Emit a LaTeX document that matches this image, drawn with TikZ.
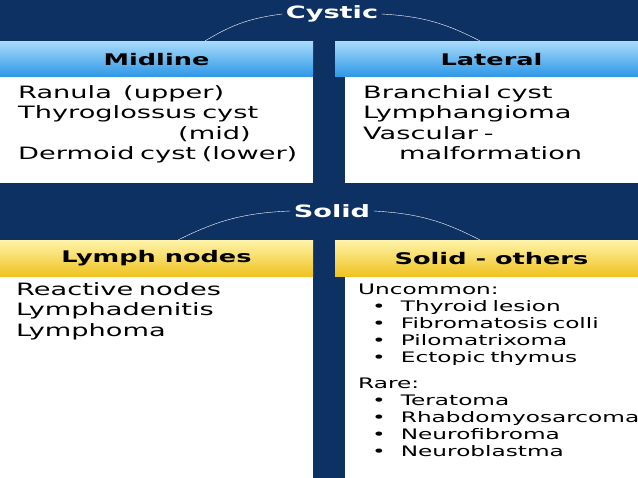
\documentclass[tikz,border=0pt]{standalone}
\usepackage{fontspec}
\setmainfont{DejaVu Sans}[FakeStretch=1.6]
\usetikzlibrary{positioning}
\definecolor{navy}{HTML}{0D3163}
\definecolor{skyhi}{HTML}{A6DAFA}
\definecolor{skylo}{HTML}{2C96E6}
\definecolor{goldhi}{HTML}{FFF3A8}
\definecolor{goldlo}{HTML}{EEC21E}
\tikzstyle{title} = [text=white, font=\bfseries\fontsize{17}{20}\selectfont]
\tikzstyle{bluehead} = [minimum width=313pt, minimum height=35pt, top color=skyhi, bottom color=skylo, font=\bfseries\fontsize{16}{18}\selectfont]
\tikzstyle{goldhead} = [minimum width=313pt, minimum height=36pt, top color=goldhi, bottom color=goldlo, font=\bfseries\fontsize{16}{18}\selectfont]
\tikzstyle{body} = [text width=290pt, align=left, anchor=north west, inner sep=0pt, font=\fontsize{17}{20.5}\selectfont]
\tikzstyle{link} = [white, thin]
\begin{document}
\begin{tikzpicture}[x=1pt, y=-1pt]
        \fill[navy] (0,0) rectangle (638,478);
        \useasboundingbox (0,0) rectangle (638,478);

        % cystic
        \node (cystic) [title] at (332,14) {Cystic};
        \node (midhead) [bluehead] at (156.5,59.5) {Midline};
        \node (lathead) [bluehead] at (491.5,59.5) {Lateral};
        \fill[white] (0,77) rectangle (313,183);
        \fill[white] (345,77) rectangle (638,183);
        \node (midbody) [body] at (18,85) {Ranula\ \ (upper)\\Thyroglossus cyst\\\hspace*{160pt}(mid)\\Dermoid cyst (lower)};
        \node (latbody) [body] at (363,85) {Branchial cyst\\Lymphangioma\\Vascular -\\\hspace*{36pt}malformation};
        \coordinate (midtop) at (205,41);
        \coordinate (lattop) at (480,41);
        \draw [link] (cystic.west) to[bend right=12] (midtop);
        \draw [link] (cystic.east) to[bend left=12] (lattop);

        % solid
        \node (solid) [title] at (332,211) {Solid};
        \node (lymhead) [goldhead] at (156.5,258.5) {Lymph nodes};
        \node (othhead) [goldhead] at (491.5,258.5) {Solid - others};
        \fill[white] (0,277) rectangle (313,478);
        \fill[white] (345,277) rectangle (638,478);
        \node (lymbody) [body] at (16,282) {Reactive nodes\\Lymphadenitis\\Lymphoma};
        \node (othbody) [body, font=\fontsize{14.5}{17}\selectfont] at (358,284) {Uncommon:\\
            \hspace*{14pt}\textbullet\hspace{15pt}Thyroid lesion\\
            \hspace*{14pt}\textbullet\hspace{15pt}Fibromatosis colli\\
            \hspace*{14pt}\textbullet\hspace{15pt}Pilomatrixoma\\
            \hspace*{14pt}\textbullet\hspace{15pt}Ectopic thymus\\[9pt]
            Rare:\\
            \hspace*{14pt}\textbullet\hspace{15pt}Teratoma\\
            \hspace*{14pt}\textbullet\hspace{15pt}Rhabdomyosarcoma\\
            \hspace*{14pt}\textbullet\hspace{15pt}Neurofibroma\\
            \hspace*{14pt}\textbullet\hspace{15pt}Neuroblastma};
        \coordinate (lymtop) at (178,240);
        \coordinate (othtop) at (480,240);
        \draw [link] (solid.west) to[bend right=12] (lymtop);
        \draw [link] (solid.east) to[bend left=12] (othtop);
    \end{tikzpicture}
\end{document}
